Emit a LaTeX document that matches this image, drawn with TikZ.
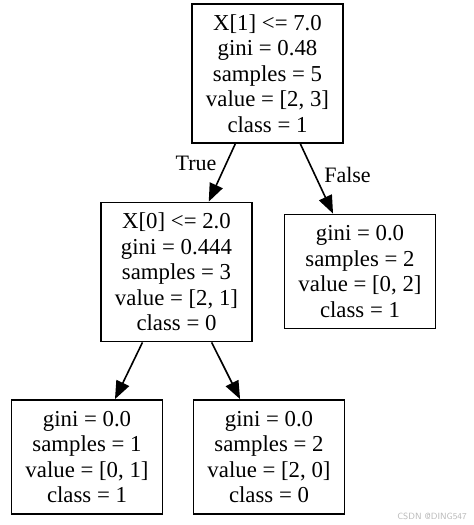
\documentclass[tikz,border=0pt]{standalone}
\usepackage{fontspec}
\setmainfont{Liberation Serif}
\usetikzlibrary{positioning,arrows.meta}

\begin{document}
\begin{tikzpicture}[
  x=1pt,y=-1pt,
  >={Triangle[length=18pt,width=14pt]},
  split/.style={draw,line width=1.8pt,minimum width=151pt,minimum height=139pt,
    align=center,inner sep=0pt,font=\fontsize{22.8}{25.5}\selectfont},
  leaf/.style={split,minimum height=114pt},
  branch/.style={->,line width=1.6pt},
  edgelabel/.style={font=\fontsize{22}{24}\selectfont}
]
  \useasboundingbox (0,0) rectangle (474,525);
  \node[split] (root) at (267.5,73.5)
    {X[1] <= 7.0\\gini = 0.48\\samples = 5\\value = [2, 3]\\class = 1};
  \node[split] (low) at (176.5,272)
    {X[0] <= 2.0\\gini = 0.444\\samples = 3\\value = [2, 1]\\class = 0};
  \node[leaf] (high) at (360,271.5)
    {gini = 0.0\\samples = 2\\value = [0, 2]\\class = 1};
  \node[leaf] (lowlow) at (87,457)
    {gini = 0.0\\samples = 1\\value = [0, 1]\\class = 1};
  \node[leaf] (lowhigh) at (269,457)
    {gini = 0.0\\samples = 2\\value = [2, 0]\\class = 0};
  \draw[branch] (root) -- (low);
  \draw[branch] (root) -- (high);
  \draw[branch] (low) -- (lowlow);
  \draw[branch] (low) -- (lowhigh);
  \node[edgelabel] (yes) at (196,163) {True};
  \node[edgelabel] (no) at (347.5,175) {False};
  \node[font=\sffamily\fontsize{9}{10}\selectfont,text=gray!55] (mark) at (432,516)
    {CSDN @DING547};
\end{tikzpicture}
\end{document}
